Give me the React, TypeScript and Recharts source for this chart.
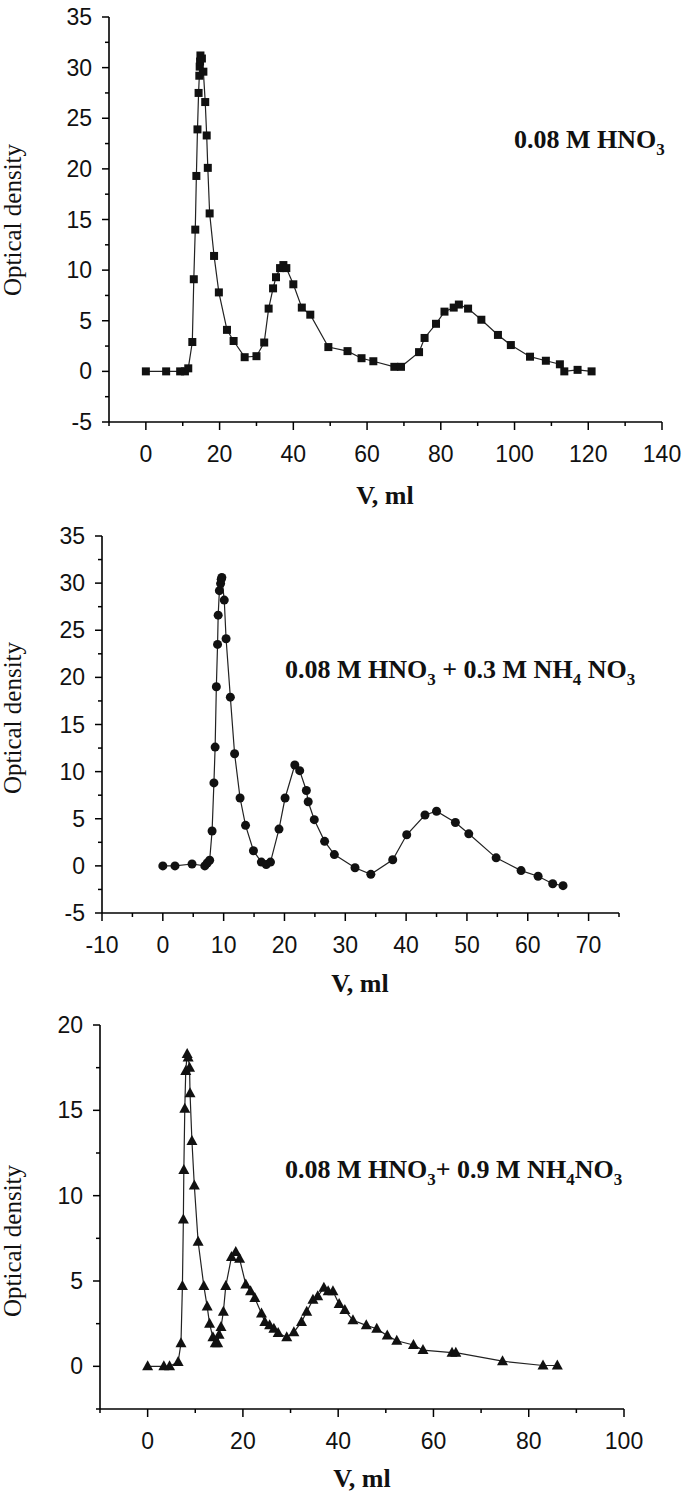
import React from "react";
import { LineChart, Line, XAxis, YAxis } from "recharts";

// ---- panel 1: 0.08 M HNO3 (squares)
const v1 = [0, 5.5, 9.3, 10.6, 11.5, 12.6, 13.0, 13.4, 13.7, 14.0, 14.3, 14.5, 14.6, 14.7, 14.8, 15.2, 15.6, 16.1, 16.5, 16.8, 17.3, 18.5, 19.8, 22.0, 23.8, 26.8, 30.0, 32.1, 33.3, 34.5, 35.3, 36.4, 37.3, 38.1, 40.0, 42.3, 44.6, 49.5, 54.7, 58.5, 61.7, 67.4, 69.2, 74.1, 75.6, 78.7, 81.0, 83.5, 84.9, 87.4, 91.0, 95.5, 99.0, 104.2, 108.5, 112.3, 113.5, 117.1, 120.9];
const od1 = [0, 0, 0, 0, 0.3, 2.9, 9.1, 14.0, 19.3, 23.9, 27.5, 29.2, 30.1, 30.6, 31.2, 30.9, 29.6, 26.6, 23.3, 20.1, 15.6, 11.4, 7.8, 4.1, 3.0, 1.4, 1.5, 2.85, 6.2, 8.2, 9.3, 10.2, 10.5, 10.2, 8.6, 6.3, 5.6, 2.4, 2.0, 1.3, 1.0, 0.45, 0.45, 1.9, 3.3, 4.7, 5.9, 6.3, 6.6, 6.2, 5.1, 3.6, 2.6, 1.45, 1.05, 0.7, 0, 0.15, 0];

// ---- panel 2: 0.08 M HNO3 + 0.3 M NH4NO3 (circles)
const v2 = [0, 2.0, 4.8, 6.9, 7.3, 7.7, 8.1, 8.4, 8.6, 8.8, 9.0, 9.1, 9.3, 9.5, 9.6, 9.7, 10.1, 10.4, 11.1, 11.8, 12.7, 13.6, 14.9, 16.2, 17.0, 17.7, 19.1, 20.1, 21.7, 22.5, 23.6, 23.9, 24.9, 26.6, 28.2, 31.6, 34.2, 37.8, 40.1, 43.1, 45.0, 48.1, 50.3, 54.8, 58.9, 61.7, 64.1, 65.8];
const od2 = [0, 0, 0.2, 0, 0.3, 0.6, 3.7, 8.8, 12.6, 19.0, 23.5, 26.6, 29.2, 29.95, 30.4, 30.6, 28.2, 24.1, 17.9, 11.9, 7.2, 4.3, 1.6, 0.4, 0.15, 0.4, 3.9, 7.2, 10.7, 10.1, 8.0, 6.8, 4.9, 2.6, 1.2, -0.2, -0.9, 0.65, 3.3, 5.4, 5.8, 4.6, 3.4, 0.85, -0.5, -1.1, -1.9, -2.1];

// ---- panel 3: 0.08 M HNO3 + 0.9 M NH4NO3 (triangles)
const v3 = [0, 3.4, 4.6, 6.4, 7.0, 7.3, 7.5, 7.6, 7.8, 8.0, 8.3, 8.5, 8.8, 8.9, 9.3, 9.8, 10.6, 11.8, 12.5, 13.0, 13.7, 14.2, 14.7, 15.0, 15.4, 15.9, 16.4, 17.6, 18.5, 19.3, 20.6, 21.6, 22.5, 23.9, 24.6, 25.6, 26.5, 27.4, 29.2, 30.7, 32.3, 33.4, 34.7, 35.7, 37.0, 37.9, 38.9, 40.2, 41.4, 43.1, 45.9, 48.1, 50.3, 52.3, 55.8, 57.8, 63.9, 64.7, 74.5, 83.0, 86.0];
const od3 = [0, 0, 0, 0.25, 1.35, 4.7, 8.6, 11.5, 15.1, 17.3, 18.3, 18.1, 17.5, 16.0, 13.2, 10.6, 7.3, 4.7, 3.5, 2.5, 1.7, 1.35, 1.35, 1.85, 2.3, 3.2, 4.7, 6.4, 6.7, 6.3, 4.8, 4.4, 4.0, 3.1, 2.6, 2.4, 2.2, 1.95, 1.7, 2.0, 2.6, 3.2, 3.9, 4.1, 4.6, 4.4, 4.4, 3.65, 3.3, 2.7, 2.4, 2.2, 1.8, 1.5, 1.25, 0.95, 0.8, 0.8, 0.3, 0.05, 0.05];

// axis ticks (all) and the labelled ones
const xTicks1 = [-10, 0, 10, 20, 30, 40, 50, 60, 70, 80, 90, 100, 110, 120, 130, 140];
const xLabels1 = [0, 20, 40, 60, 80, 100, 120, 140];
const yTicks1 = [-5, -2.5, 0, 2.5, 5, 7.5, 10, 12.5, 15, 17.5, 20, 22.5, 25, 27.5, 30, 32.5, 35];
const yLabels1 = [-5, 0, 5, 10, 15, 20, 25, 30, 35];

const xTicks2 = [-10, -5, 0, 5, 10, 15, 20, 25, 30, 35, 40, 45, 50, 55, 60, 65, 70, 75];
const xLabels2 = [-10, 0, 10, 20, 30, 40, 50, 60, 70];
const yTicks2 = yTicks1;
const yLabels2 = yLabels1;

const xTicks3 = [-10, 0, 10, 20, 30, 40, 50, 60, 70, 80, 90, 100];
const xLabels3 = [0, 20, 40, 60, 80, 100];
const yTicks3 = [-2.5, 0, 2.5, 5, 7.5, 10, 12.5, 15, 17.5, 20];
const yLabels3 = [0, 5, 10, 15, 20];

// annotation pieces: [text, isSubscript]
const note1: [string, boolean][] = [["0.08 M HNO", false], ["3", true]];
const note2: [string, boolean][] = [
  ["0.08 M HNO", false], ["3", true], [" + 0.3 M NH", false], ["4", true], [" NO", false], ["3", true],
];
const note3: [string, boolean][] = [
  ["0.08 M HNO", false], ["3", true], ["+ 0.9 M NH", false], ["4", true], ["NO", false], ["3", true],
];

const tickFont = { fontFamily: "'Liberation Sans', Arial, sans-serif", fontSize: 23, fill: "#111" };

const XTick = (props: any) => {
  const { x, y, payload, labels } = props;
  const major = labels.includes(payload.value);
  return (
    <g>
      <line x1={x} y1={y} x2={x} y2={y + (major ? 8 : 4)} stroke="#000" strokeWidth={1.5} />
      {major && (
        <text x={x} y={y + 40} textAnchor="middle" {...tickFont}>
          {payload.value}
        </text>
      )}
    </g>
  );
};

const YTick = (props: any) => {
  const { x, y, payload, labels } = props;
  const major = labels.includes(payload.value);
  return (
    <g>
      <line x1={x - (major ? 7 : 4)} y1={y} x2={x} y2={y} stroke="#000" strokeWidth={1.5} />
      {major && (
        <text x={x - 17} y={y + 8} textAnchor="end" {...tickFont}>
          {payload.value}
        </text>
      )}
    </g>
  );
};

const Square = (p: any) => (
  <rect key={p.index} x={p.cx - 4} y={p.cy - 4} width={8} height={8} fill="#111" />
);
const Circle = (p: any) => <circle key={p.index} cx={p.cx} cy={p.cy} r={4.5} fill="#111" />;
const Triangle = (p: any) => (
  <path
    key={p.index}
    d={`M${p.cx},${p.cy - 6} L${p.cx + 5.5},${p.cy + 4} L${p.cx - 5.5},${p.cy + 4} Z`}
    fill="#111"
  />
);

// reserved space for the axes; the plot box is set by plot* below
const Y_W = 60;
const X_H = 50;

type PanelProps = {
  top: number;
  height: number;
  plotLeft: number;
  plotRight: number;
  plotTop: number;
  plotBottom: number;
  v: number[];
  od: number[];
  xDomain: [number, number];
  yDomain: [number, number];
  xTicks: number[];
  xLabels: number[];
  yTicks: number[];
  yLabels: number[];
  marker: (p: any) => React.ReactElement;
};

function Panel(p: PanelProps) {
  const data = p.v.map((v, i) => ({ v, od: p.od[i] }));
  const margin = {
    top: p.plotTop - p.top,
    left: p.plotLeft - Y_W,
    right: 685 - p.plotRight,
    bottom: p.top + p.height - p.plotBottom - X_H,
  };
  return (
    <div style={{ position: "absolute", left: 0, top: p.top }}>
      <LineChart width={685} height={p.height} data={data} margin={margin}>
        <XAxis
          type="number"
          dataKey="v"
          domain={p.xDomain}
          ticks={p.xTicks}
          interval={0}
          allowDataOverflow
          height={X_H}
          tickSize={0}
          tickMargin={0}
          axisLine={{ stroke: "#000", strokeWidth: 1.6 }}
          tick={(t: any) => <XTick {...t} labels={p.xLabels} />}
        />
        <YAxis
          type="number"
          domain={p.yDomain}
          ticks={p.yTicks}
          interval={0}
          allowDataOverflow
          width={Y_W}
          tickSize={0}
          tickMargin={0}
          axisLine={{ stroke: "#000", strokeWidth: 1.6 }}
          tick={(t: any) => <YTick {...t} labels={p.yLabels} />}
        />
        <Line
          type="linear"
          dataKey="od"
          stroke="#222"
          strokeWidth={1.2}
          dot={p.marker}
          activeDot={false}
          isAnimationActive={false}
        />
      </LineChart>
    </div>
  );
}

const serif = "'Liberation Serif', 'Times New Roman', serif";

function Note({ x, y, parts }: { x: number; y: number; parts: [string, boolean][] }) {
  return (
    <text x={x} y={y} fontSize={26} fontWeight="bold" fontFamily={serif} fill="#111" style={{ whiteSpace: "pre" }}>
      {parts.map(([t, sub], i) => {
        const prevSub = i > 0 && parts[i - 1][1];
        const dy = sub ? 7 : prevSub ? -7 : 0;
        return (
          <tspan key={i} dy={dy} fontSize={sub ? 17 : 26}>
            {t}
          </tspan>
        );
      })}
    </text>
  );
}

export default function App() {
  const titleStyle = { fontFamily: serif, fill: "#111" };
  return (
    <div style={{ position: "absolute", left: 0, top: 0, width: 685, height: 1496, background: "#fff" }}>
      <Panel
        top={0}
        height={520}
        plotLeft={109}
        plotRight={662}
        plotTop={17}
        plotBottom={422}
        v={v1}
        od={od1}
        xDomain={[-10, 140]}
        yDomain={[-5, 35]}
        xTicks={xTicks1}
        xLabels={xLabels1}
        yTicks={yTicks1}
        yLabels={yLabels1}
        marker={Square}
      />
      <Panel
        top={520}
        height={480}
        plotLeft={102}
        plotRight={619}
        plotTop={536}
        plotBottom={913}
        v={v2}
        od={od2}
        xDomain={[-10, 75]}
        yDomain={[-5, 35]}
        xTicks={xTicks2}
        xLabels={xLabels2}
        yTicks={yTicks2}
        yLabels={yLabels2}
        marker={Circle}
      />
      <Panel
        top={1000}
        height={496}
        plotLeft={100}
        plotRight={624}
        plotTop={1025}
        plotBottom={1409}
        v={v3}
        od={od3}
        xDomain={[-10, 100]}
        yDomain={[-2.5, 20]}
        xTicks={xTicks3}
        xLabels={xLabels3}
        yTicks={yTicks3}
        yLabels={yLabels3}
        marker={Triangle}
      />

      {/* titles and annotations */}
      <svg
        width={685}
        height={1496}
        style={{ position: "absolute", left: 0, top: 0, pointerEvents: "none" }}
      >
        {[220, 718, 1241].map((cy) => (
          <text
            key={cy}
            x={0}
            y={0}
            transform={`translate(21 ${cy}) rotate(-90)`}
            textAnchor="middle"
            fontSize={25}
            {...titleStyle}
          >
            Optical density
          </text>
        ))}
        <text x={385} y={504} textAnchor="middle" fontSize={26} fontWeight="bold" {...titleStyle}>
          V, ml
        </text>
        <text x={360} y={992} textAnchor="middle" fontSize={26} fontWeight="bold" {...titleStyle}>
          V, ml
        </text>
        <text x={362} y={1487} textAnchor="middle" fontSize={26} fontWeight="bold" {...titleStyle}>
          V, ml
        </text>

        <Note x={514} y={148} parts={note1} />
        <Note x={285} y={678} parts={note2} />
        <Note x={285} y={1178} parts={note3} />
      </svg>
    </div>
  );
}
